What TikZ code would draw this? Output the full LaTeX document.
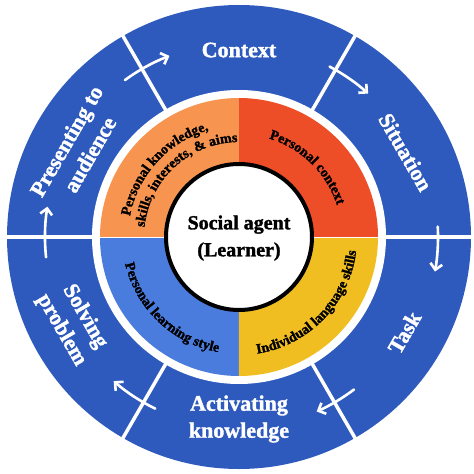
\documentclass[tikz,border=0pt]{standalone}
\usepackage{fontspec}
\setmainfont{Liberation Serif}[BoldFeatures={FakeBold=1.6}]
\usetikzlibrary{arrows.meta,decorations.text}
\definecolor{ringblue}{RGB}{46,90,190}
\definecolor{qorange}{RGB}{247,148,80}
\definecolor{qred}{RGB}{237,78,40}
\definecolor{qyellow}{RGB}{240,190,32}
\definecolor{qblue}{RGB}{74,124,222}
\newcommand{\innerfont}{\bfseries\fontsize{14}{16}\selectfont}
\tikzset{
  outerlabel/.style={text=white, font=\bfseries\fontsize{22}{27}\selectfont, align=center, inner sep=0pt},
  cyclearrow/.style={white, line width=2.6pt, line cap=round, line join=round, -{Straight Barb[length=6pt,width=12pt]}},
  divider/.style={white, line width=3.5pt},
}
\begin{document}
\begin{tikzpicture}[x=1pt,y=1pt]
\useasboundingbox (-239,-237) rectangle (235,237);
% outer blue ring
\fill[ringblue] (0,0) circle (232);
\fill[white] (0,0) circle (147);
\foreach \a in {0,60,120,180,240,300} \draw[divider] (\a:145) -- (\a:234);
% inner quadrants
\fill[qred] (0,0) -- (0:139) arc[start angle=0,end angle=90,radius=139] -- cycle;
\fill[qorange] (0,0) -- (90:139) arc[start angle=90,end angle=180,radius=139] -- cycle;
\fill[qblue] (0,0) -- (180:139) arc[start angle=180,end angle=270,radius=139] -- cycle;
\fill[qyellow] (0,0) -- (270:139) arc[start angle=270,end angle=360,radius=139] -- cycle;
\draw[white, line width=1pt] (-139,0) -- (139,0);
% centre
\draw[line width=4pt, fill=white] (0,0) circle (73);
\node[font=\bfseries\fontsize{20}{27}\selectfont, align=center] (agent) at (0,-1) {Social agent\\(Learner)};
% outer labels
\node[outerlabel] (context) at (90:187) {Context};
\node[outerlabel, rotate=-60] (situation) at (27:187) {Situation};
\node[outerlabel, rotate=60] (task) at (-30:191) {Task};
\node[outerlabel] (activating) at (-90:182) {Activating\\knowledge};
\node[outerlabel, rotate=-60] (solving) at (-152.5:187) {Solving\\problem};
\node[outerlabel, rotate=60] (presenting) at (151:184) {Presenting to\\audience};
% cycle arrows
\draw[cyclearrow] (126:194) arc[start angle=126,end angle=111,radius=194];
\draw[cyclearrow] (62:193) arc[start angle=62,end angle=48,radius=193];
\draw[cyclearrow] (3:199) arc[start angle=3,end angle=-10,radius=199];
\draw[cyclearrow] (-53:191) arc[start angle=-53,end angle=-66,radius=191];
\draw[cyclearrow] (-116:191) arc[start angle=-116,end angle=-131,radius=191];
\draw[cyclearrow] (186:194) arc[start angle=186,end angle=171,radius=194];
% curved inner texts
\path[decorate, decoration={text along path, text align=center, text={|\innerfont|Personal knowledge,}}]
  (172:111) arc[start angle=172,end angle=103,radius=111];
\path[decorate, decoration={text along path, text align=center, text={|\innerfont|skills, interests, {\&} aims}}]
  (178:95) arc[start angle=178,end angle=87,radius=95];
\path[decorate, decoration={text along path, text align=center, text={|\innerfont|Personal context}}]
  (78:103) arc[start angle=78,end angle=13,radius=103];
\path[decorate, decoration={text along path, text align=center, text={|\innerfont|Individual language skills}}]
  (-85:118) arc[start angle=-85,end angle=-3,radius=118];
\path[decorate, decoration={text along path, text align=center, text={|\innerfont|Personal learning style}}]
  (-175:117) arc[start angle=-175,end angle=-92,radius=117];
\end{tikzpicture}
\end{document}
